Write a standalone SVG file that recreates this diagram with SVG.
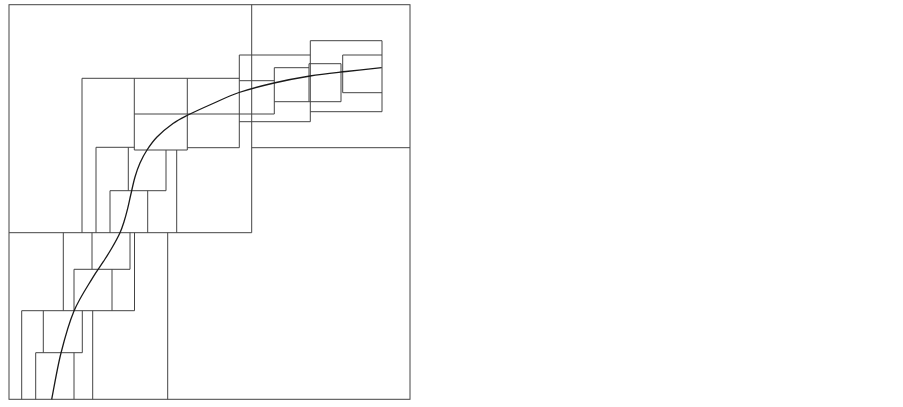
<svg xmlns="http://www.w3.org/2000/svg" width="903" height="407" viewBox="0 0 903 407">
<style>
.ln{fill:none;stroke:#444;stroke-width:1}
.cv{fill:none;stroke:#1a1a1a;stroke-width:1.3}
</style>
<rect x="0" y="0" width="903" height="407" fill="#fff"/>
<g id="frame">
<rect class="ln" x="9" y="4.7" width="401" height="394.6"/>
<path class="ln" d="M251.7,4.7V232.7 M251.7,147.7H410 M9,232.7H251.7 M167.7,232.7V399.3"/>
</g>
<g id="upper-left">
<path class="ln" d="M82,232.7V78.3H239.3 M239.3,55V147.7H187.3"/>
<path class="ln" d="M134.3,78.3V150H187.3V78.3 M134.3,114H274.3"/>
<path class="ln" d="M96,232.7V147.3H134.3"/>
<path class="ln" d="M128.3,147.3V190.7 M110,232.7V190.7H166V150 M176.7,150V232.7 M147.7,190.7V232.7"/>
</g>
<g id="upper-right">
<path class="ln" d="M239.3,55H310.3 M310.3,40.7V121.7H239.3 M239.3,80.7H274.3"/>
<path class="ln" d="M274.3,114V67.7H309 M274.3,101.7H341"/>
<path class="ln" d="M310.3,40.7H382V111.7H310.3"/>
<path class="ln" d="M309,101.7V63.7H341V101.7"/>
<path class="ln" d="M342.7,55H382 M342.7,55V92.7H382"/>
</g>
<g id="lower-left">
<path class="ln" d="M63.3,232.7V310.7 M92,232.7V269.3 M74,269.3H130V232.7 M134.5,232.7V310.7 M74,269.3V310.7 M112,269.3V310.7"/>
<path class="ln" d="M21.7,399.3V310.7H134.5"/>
<path class="ln" d="M43.3,310.7V352.7 M35.7,352.7H82.3V310.7 M35.7,352.7V399.3 M74,352.7V399.3 M92.7,310.7V399.3"/>
</g>
<g id="curve">
<path class="cv" d="M51.7,399.3 C53.25,391.6 57.28,367.72 61,353 C64.72,338.28 68.78,323.45 74,311 C79.22,298.55 87.42,286.52 92.3,278.3 C97.18,270.08 100.07,266.7 103.3,261.7 C106.53,256.7 108.92,253.13 111.7,248.3 C114.48,243.47 117.95,237.13 120,232.7 C122.05,228.27 122.72,225.77 124,221.7 C125.28,217.63 126.58,212.75 127.7,208.3 C128.82,203.85 129.48,200.22 130.7,195 C131.92,189.78 133.45,182.33 135,177 C136.55,171.67 138,167.5 140,163 C142,158.5 144.17,154.33 147,150 C149.83,145.67 152.67,141.42 157,137 C161.33,132.58 168,127.08 173,123.5 C178,119.92 180.33,118.83 187,115.5 C193.67,112.17 204.33,107.33 213,103.5 C221.67,99.67 228.83,95.92 239,92.5 C249.17,89.08 262.17,85.75 274,83 C285.83,80.25 298,77.92 310,76 C322,74.08 334.05,72.88 346,71.5 C357.95,70.12 375.75,68.33 381.7,67.7"/>
</g>
</svg>
